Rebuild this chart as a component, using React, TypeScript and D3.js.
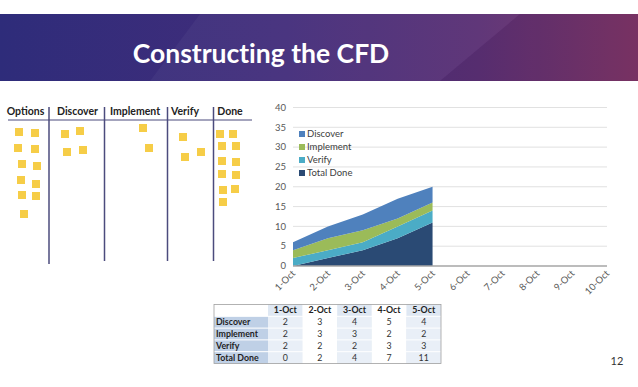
import React from 'react'
import * as d3 from 'd3'

const days = ['1-Oct', '2-Oct', '3-Oct', '4-Oct', '5-Oct', '6-Oct', '7-Oct', '8-Oct', '9-Oct', '10-Oct']
const tableDays = ['1-Oct', '2-Oct', '3-Oct', '4-Oct', '5-Oct']
const discover = [2, 3, 4, 5, 4]
const implement = [2, 3, 3, 2, 2]
const verify = [2, 2, 2, 3, 3]
const totalDone = [0, 2, 4, 7, 11]
const yTicks = [0, 5, 10, 15, 20, 25, 30, 35, 40]
const boardColumns = ['Options', 'Discover', 'Implement', 'Verify', 'Done']

// sticky notes on the board (decoration, page coords)
const stickies = [
  [19, 132], [35, 133], [18, 148], [35, 149], [22, 164], [37, 166], [21, 180], [36, 184], [22, 195], [36, 196], [24, 214],
  [65, 134], [80, 131], [67, 152], [83, 150],
  [143, 128], [149, 148],
  [183, 137], [201, 152], [185, 157],
  [220, 134], [233, 134], [222, 146], [236, 146], [222, 161], [236, 162], [222, 174], [236, 175], [223, 190], [235, 189], [223, 202],
]

const series = [
  { key: 'Total Done', values: totalDone, color: '#2a4a74' },
  { key: 'Verify', values: verify, color: '#4bacc6' },
  { key: 'Implement', values: implement, color: '#9bbb59' },
  { key: 'Discover', values: discover, color: '#4f81bd' },
]
const legendOrder = ['Discover', 'Implement', 'Verify', 'Total Done']
const tableRows = [
  { name: 'Discover', values: discover },
  { name: 'Implement', values: implement },
  { name: 'Verify', values: verify },
  { name: 'Total Done', values: totalDone },
]

const W = 638
const H = 387
const chartFont = 'Lato, "Open Sans", sans-serif'

const App = () => {
  const x = d3.scalePoint<string>().domain(days).range([293, 607]).padding(0)
  const y = d3.scaleLinear().domain([0, 40]).range([266, 107.5])

  const rows = tableDays.map((d, i) => {
    const r: any = { day: d }
    series.forEach(s => { r[s.key] = s.values[i] })
    return r
  })
  const stacked = d3.stack<any>().keys(series.map(s => s.key))(rows)
  const area = d3.area<any>()
    .x(d => x(d.data.day) as number)
    .y0(d => y(d[0]))
    .y1(d => y(d[1]))

  const colorOf = (k: string) => series.find(s => s.key === k)!.color

  // table layout
  const tLeft = 214
  const tTop = 304.5
  const rowH = 11.8
  const labelW = 54
  const colW = 34.6

  const boardX = [25.5, 77.5, 135, 185, 230]
  const boardLines = [49, 104.5, 167.5, 213.5]

  return (
    <svg width={W} height={H} style={{ position: 'absolute', left: 0, top: 0, background: '#fff' }}>
      <defs>
        <linearGradient id="hdr" x1="0" x2="1" y1="0" y2="0">
          <stop offset="0" stopColor="#2e2c7a" />
          <stop offset="0.45" stopColor="#432d7b" />
          <stop offset="0.75" stopColor="#5a2f74" />
          <stop offset="1" stopColor="#7d3467" />
        </linearGradient>
      </defs>

      {/* header */}
      <rect x={0} y={14} width={W} height={67} fill="url(#hdr)" />
      <polygon points="150,81 200,14 520,14 440,81" fill="#ffffff" opacity={0.04} />
      <polygon points="440,81 520,14 638,14 638,81" fill="#000000" opacity={0.04} />
      <text x={261} y={63} textAnchor="middle" fill="#fff" fontFamily='Lato, sans-serif'
        fontWeight={700} fontSize={26.5} style={{ fontVariantLigatures: 'none' }}>Constructing the CFD</text>

      {/* kanban board */}
      <g fontFamily={chartFont} fontWeight={700} fontSize={10.5} fill="#222">
        {boardColumns.map((c, i) => (
          <text key={c} x={boardX[i]} y={114.5} textAnchor="middle">{c}</text>
        ))}
      </g>
      <line x1={8} x2={252} y1={120} y2={120} stroke="#4b4b7d" strokeWidth={1} />
      {boardLines.map((bx, i) => (
        <line key={i} x1={bx} x2={bx} y1={107} y2={i === 0 ? 264 : 261} stroke="#4b4b7d" strokeWidth={1.5} />
      ))}
      {stickies.map(([sx, sy], i) => (
        <rect key={i} x={sx - 4} y={sy - 4} width={8} height={8} fill="#f6cd47" />
      ))}

      {/* chart */}
      <g fontFamily={chartFont} fontSize={9.5} fill="#595959">
        {yTicks.map(t => (
          <g key={t}>
            {t > 0 && <line x1={293} x2={607} y1={y(t)} y2={y(t)} stroke="#d9d9d9" strokeWidth={0.8} />}
            <text x={286} y={y(t) + 3.3} textAnchor="end">{t}</text>
          </g>
        ))}
        {stacked.map(s => (
          <path key={s.key} d={area(s) || ''} fill={colorOf(s.key)} />
        ))}
        <line x1={293} x2={607} y1={y(0)} y2={y(0)} stroke="#a6a6a6" strokeWidth={1.5} />
        {days.map(d => (
          <text key={d} x={0} y={0} textAnchor="end"
            transform={`translate(${(x(d) as number) + 3},${274}) rotate(-45)`}>{d}</text>
        ))}
        {legendOrder.map((k, i) => (
          <g key={k} transform={`translate(299,${134 + i * 13})`}>
            <rect x={0} y={-3} width={6} height={6} fill={colorOf(k)} />
            <text x={8} y={3.3} fill="#404040">{k}</text>
          </g>
        ))}
      </g>

      {/* data table */}
      <g fontFamily={chartFont} fontSize={8.8}>
        {tableDays.map((d, j) => (
          <g key={d}>
            <rect x={tLeft + labelW + j * colW} y={tTop} width={colW} height={rowH * 5}
              fill={j % 2 === 0 ? '#dfe8f3' : '#ffffff'} />
            {j % 2 === 0 && (
              <rect x={tLeft + labelW + j * colW} y={tTop + rowH} width={colW} height={rowH * 4} fill="#e9eff7" />
            )}
            <text x={tLeft + labelW + j * colW + colW / 2} y={tTop + rowH - 3} textAnchor="middle"
              fontWeight={700} fill="#222">{d}</text>
          </g>
        ))}
        {tableRows.map((r, i) => (
          <g key={r.name}>
            <rect x={tLeft} y={tTop + rowH * (i + 1)} width={labelW} height={rowH} fill="#bfd0e6" />
            <text x={tLeft + 2} y={tTop + rowH * (i + 2) - 3} fontWeight={700} fill="#1f1f1f">{r.name}</text>
            {r.values.map((v, j) => (
              <text key={j} x={tLeft + labelW + j * colW + colW / 2} y={tTop + rowH * (i + 2) - 3}
                textAnchor="middle" fill="#333">{v}</text>
            ))}
            <line x1={tLeft} x2={tLeft + labelW + 5 * colW} y1={tTop + rowH * (i + 1)} y2={tTop + rowH * (i + 1)}
              stroke="#ffffff" strokeWidth={1} />
          </g>
        ))}
        <rect x={tLeft} y={tTop} width={labelW + 5 * colW} height={rowH * 5} fill="none" stroke="#a0a0a0" strokeWidth={0.8} />
      </g>

      <text x={617} y={365} textAnchor="middle" fontFamily={chartFont} fontSize={11} fill="#333">12</text>
    </svg>
  )
}

export default App
